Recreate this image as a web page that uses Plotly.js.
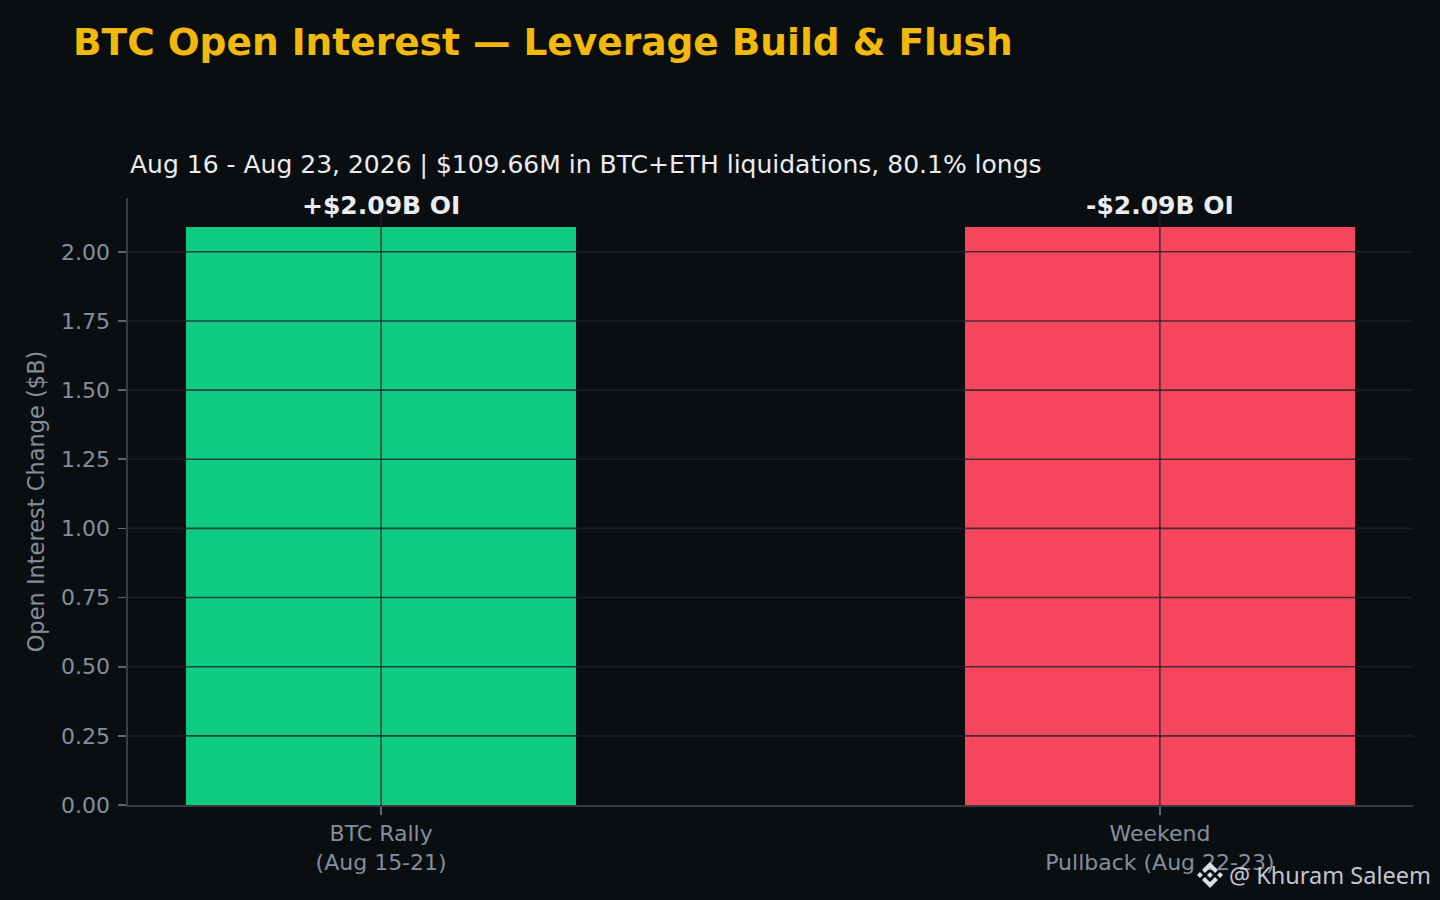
<!DOCTYPE html>
<html>
<head>
<meta charset="utf-8">
<script src="https://cdn.plot.ly/plotly-3.0.1.min.js"></script>
<style>
  html, body { margin: 0; padding: 0; background: #0b0e11; }
  #chart { width: 1440px; height: 900px; }
</style>
</head>
<body>
<div id="chart"></div>
<script>
// ---- data ----
const categories = ["BTC Rally<br>(Aug 15-21)", "Weekend<br>Pullback (Aug 22-23)"];
const oiChange = [2.09, 2.09];            // $B (absolute size of the change)
const barLabels = ["+$2.09B OI", "-$2.09B OI"];
const barColors = ["#0ecb81", "#f6465d"];
const yTickVals = [0, 0.25, 0.5, 0.75, 1.0, 1.25, 1.5, 1.75, 2.0];
const yTickText = ["0.00", "0.25", "0.50", "0.75", "1.00", "1.25", "1.50", "1.75", "2.00"];
const titleText = "BTC Open Interest — Leverage Build & Flush";
const subtitleText = "Aug 16 - Aug 23, 2026 | $109.66M in BTC+ETH liquidations, 80.1% longs";
const yTitleText = "Open Interest Change ($B)";
const watermarkText = "@ Khuram Saleem";

// ---- styling ----
const BG = "#0b0e11";
const GRID = "rgba(30,35,41,0.8)";
const SPINE = "#363b43";
const MUTED = "#848e9c";
const LIGHT = "#eaecef";
const FONT = "DejaVu Sans, sans-serif";

const xIdx = categories.map((c, i) => i);

const trace = {
  type: "bar",
  x: xIdx,
  y: oiChange,
  width: 0.5,
  marker: { color: barColors, line: { width: 0 } },
  hoverinfo: "skip",
  cliponaxis: false
};

// grid lines drawn above the bars (as in the reference)
const shapes = [];
yTickVals.filter(v => v > 0).forEach(v => {
  shapes.push({
    type: "line", layer: "above",
    xref: "x domain", x0: 0, x1: 1,
    yref: "y", y0: v, y1: v,
    line: { color: GRID, width: 1.6 }
  });
});
xIdx.forEach(i => {
  shapes.push({
    type: "line", layer: "above",
    xref: "x", x0: i, x1: i,
    yref: "y domain", y0: 0, y1: 1,
    line: { color: GRID, width: 1.6 }
  });
});

const annotations = xIdx.map(i => ({
  x: i, y: oiChange[i], xref: "x", yref: "y",
  text: "<b>" + barLabels[i] + "</b>",
  showarrow: false, yanchor: "bottom", yshift: 5,
  font: { family: FONT, size: 25, color: LIGHT }
}));
annotations.push({
  xref: "paper", yref: "paper", x: 0, y: 1 + (198 - 164) / 607,
  xanchor: "left", yanchor: "middle",
  text: subtitleText, showarrow: false,
  font: { family: FONT, size: 25, color: LIGHT }
});
annotations.push({
  xref: "paper", yref: "paper", x: (1433 - 128) / 1285, y: (805 - 875) / 607,
  xanchor: "right", yanchor: "middle",
  text: watermarkText, showarrow: false,
  font: { family: "Noto Sans, sans-serif", size: 23.5, color: "rgba(220,223,227,0.9)" }
});

const logoSvg = '<svg xmlns="http://www.w3.org/2000/svg" viewBox="0 0 126.61 126.61"><g fill="#dcdfe3"><path d="m38.73 53.2 24.59-24.58 24.6 24.6 14.3-14.31L63.32 0 24.43 38.9l14.3 14.3zM0 63.31l14.3-14.31 14.31 14.31-14.31 14.3zM38.73 73.41l24.59 24.59 24.6-24.6 14.31 14.29-38.9 38.91-38.91-38.88-.02-.02zM98 63.31l14.3-14.31 14.31 14.3-14.31 14.32z"/><path d="m77.83 63.3-14.51-14.52-10.73 10.73-1.24 1.23-2.540 2.54-.02.02.02.03 14.51 14.5 14.51-14.52.01-.01z"/></g></svg>';

const layout = {
  width: 1440, height: 900,
  paper_bgcolor: BG, plot_bgcolor: BG,
  margin: { l: 128, r: 27, t: 198, b: 95 },
  font: { family: FONT, color: MUTED },
  showlegend: false,
  title: {
    text: "<b>" + titleText + "</b>",
    xref: "container", yref: "container",
    x: 73 / 1440, xanchor: "left",
    y: 1 - 42 / 900, yanchor: "middle",
    font: { family: FONT, size: 37.5, color: "#f0b90b" }
  },
  xaxis: {
    range: [-0.325, 1.325],
    tickmode: "array", tickvals: xIdx, ticktext: categories,
    showgrid: false, zeroline: false,
    showline: true, linecolor: SPINE, linewidth: 1.6,
    ticks: "outside", ticklen: 8, tickwidth: 1.6, tickcolor: "#5e6673",
    tickfont: { family: FONT, size: 22, color: MUTED },
    layer: "above traces", fixedrange: true
  },
  yaxis: {
    range: [0, 2.1945],
    tickmode: "array", tickvals: yTickVals, ticktext: yTickText,
    showgrid: false, zeroline: false,
    showline: true, linecolor: SPINE, linewidth: 1.6,
    ticks: "outside", ticklen: 8, tickwidth: 1.6, tickcolor: "#5e6673",
    ticklabelstandoff: 4,
    tickfont: { family: FONT, size: 22, color: MUTED },
    title: { text: yTitleText, font: { family: FONT, size: 22.5, color: MUTED }, standoff: 10 },
    layer: "above traces", fixedrange: true
  },
  shapes: shapes,
  annotations: annotations,
  images: [{
    source: "data:image/svg+xml;charset=utf-8," + encodeURIComponent(logoSvg),
    xref: "paper", yref: "paper",
    x: (1197 - 128) / 1285, y: (805 - 862) / 607,
    sizex: 26 / 1285, sizey: 26 / 607,
    xanchor: "left", yanchor: "top", sizing: "contain", layer: "above"
  }],
  bargap: 0
};

Plotly.newPlot("chart", [trace], layout, { staticPlot: true, displayModeBar: false });
</script>
</body>
</html>
